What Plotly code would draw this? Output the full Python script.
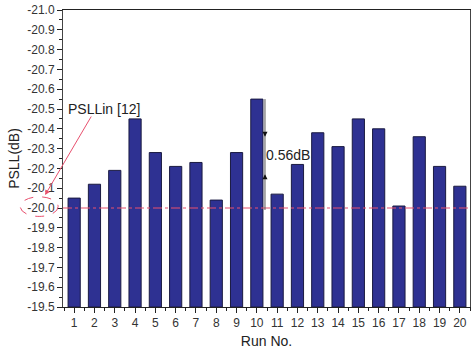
import plotly.graph_objects as go

runs = list(range(1, 21))
psll = [-20.05, -20.12, -20.19, -20.45, -20.28, -20.21, -20.23, -20.04, -20.28, -20.55,
        -20.07, -20.22, -20.38, -20.31, -20.45, -20.40, -20.01, -20.36, -20.21, -20.11]
base_level = -19.5
ref_level = -20.0
y_ticks = [-21.0, -20.9, -20.8, -20.7, -20.6, -20.5, -20.4, -20.3, -20.2, -20.1,
           -20.0, -19.9, -19.8, -19.7, -19.6, -19.5]

fig = go.Figure()
fig.add_trace(go.Bar(
    x=runs,
    y=[v - base_level for v in psll],
    base=[base_level] * len(runs),
    width=0.6,
    marker=dict(color="#2e3192", line=dict(color="#1a1a40", width=1)),
))

font = "Liberation Sans, Arial, sans-serif"
fig.update_layout(
    width=474, height=357,
    margin=dict(l=63, r=3, t=5, b=50),
    paper_bgcolor="white", plot_bgcolor="white",
    showlegend=False,
    font=dict(family=font, size=12, color="#333"),
    xaxis=dict(
        range=[0.45, 20.5], tickmode="array", tickvals=runs, ticktext=[str(r) for r in runs],
        ticks="outside", ticklen=5, tickcolor="#222", showline=True, linecolor="#222",
        linewidth=1, mirror=True, showgrid=False, zeroline=False,
        minor=dict(ticks="outside", ticklen=3, dtick=0.5, tick0=0.5, tickcolor="#222"),
        title=dict(text="Run No.", font=dict(size=14, color="#222"), standoff=6),
        tickfont=dict(size=12, color="#333"),
    ),
    yaxis=dict(
        range=[-19.5, -21.0], tickmode="array", tickvals=y_ticks,
        ticktext=["%.1f" % t for t in y_ticks], ticklabeloverflow="allow",
        ticks="outside", ticklen=5, tickcolor="#222", showline=True, linecolor="#444",
        linewidth=1, mirror=True, showgrid=False, zeroline=False,
        minor=dict(ticks="outside", ticklen=3, dtick=0.05, tick0=-21.0, tickcolor="#222"),
        title=dict(text="PSLL(dB)", font=dict(size=14, color="#222"), standoff=4),
        tickfont=dict(size=12, color="#333"),
    ),
)

# reference dashed line at -20.0
fig.add_shape(type="line", xref="paper", yref="y", x0=0, x1=1, y0=ref_level, y1=ref_level,
              line=dict(color="#e8506e", width=1.2, dash="dashdot"))

# dashed ellipse around -20.0 tick label
fig.add_shape(type="circle", xref="paper", yref="paper", x0=-0.105, x1=-0.012, y0=0.305, y1=0.371,
              line=dict(color="#e8506e", width=1, dash="dash"))

# PSLLin [12] label and arrow
fig.add_annotation(x=0.61, y=-20.5, xref="x", yref="y", text="PSLLin [12]", showarrow=False,
                   xanchor="left", yanchor="middle", font=dict(size=14, color="#222"))
fig.add_annotation(x=-0.044, y=0.377, xref="paper", yref="paper", text="", showarrow=True,
                   ax=47, ay=-80, arrowhead=2, arrowsize=1, arrowwidth=1, arrowcolor="#e8506e")

# 0.56dB dimension line
fig.add_shape(type="line", xref="x", yref="y", x0=10.4, x1=10.4, y0=psll[9], y1=-19.99,
              line=dict(color="#555", width=1))
fig.add_annotation(x=10.4, y=-20.36, xref="x", yref="y", text="", showarrow=True,
                   ax=0, ay=-6, arrowhead=2, arrowsize=1, arrowwidth=1, arrowcolor="#111")
fig.add_annotation(x=10.4, y=-20.17, xref="x", yref="y", text="", showarrow=True,
                   ax=0, ay=6, arrowhead=2, arrowsize=1, arrowwidth=1, arrowcolor="#111")
fig.add_annotation(x=10.35, y=-20.27, xref="x", yref="y", text="0.56dB", showarrow=False,
                   xanchor="left", yanchor="middle", font=dict(size=14, color="#222"))

fig.write_html("out.html", config={"displayModeBar": False},
               post_script="document.body.style.margin='0';document.body.style.overflow='hidden';")
